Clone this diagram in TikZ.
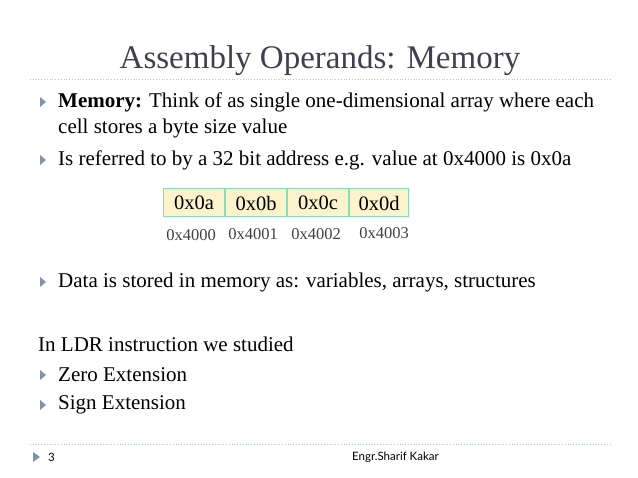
\documentclass[tikz,border=0pt]{standalone}
\usepackage{fontspec}
\setmainfont{Liberation Serif}
\newfontfamily\footfont{Lato}
\definecolor{titlec}{HTML}{3F3F4E}
\definecolor{bul}{HTML}{7F93AA}
\definecolor{cellfill}{HTML}{FCF2CC}
\definecolor{celldraw}{HTML}{86DDB8}
\definecolor{dotc}{HTML}{B5C3D3}
\begin{document}
\begin{tikzpicture}[x=1pt,y=-1pt,
  btxt/.style={anchor=west,inner sep=0pt,font=\fontsize{21}{25}\selectfont},
  cell/.style={draw=celldraw,line width=1pt,fill=cellfill,minimum width=61pt,minimum height=28pt,inner sep=0pt,font=\fontsize{20.5}{24}\selectfont,anchor=west},
  addr/.style={font=\fontsize{16.5}{19}\selectfont,text=black!75,inner sep=0pt},
  dotline/.style={dotc,dotted,line width=0.8pt}]
\useasboundingbox (0,0) rectangle (638,478);
\node[font=\fontsize{33}{38}\selectfont,text=titlec] (title) at (320,61) {Assembly Operands: Memory};
\draw[dotline] (30,79) -- (610,79);
\foreach \y/\n in {102/b1,160/b2,282/b3,375/b4,405/b5}{
  \fill[bul] (40,\y-5) -- (46,\y) -- (40,\y+5) -- cycle;}
\node[btxt] (t1) at (58,102) {\textbf{Memory:} Think of as single one-dimensional array where each};
\node[btxt] (t1b) at (58,128) {cell stores a byte size value};
\node[btxt] (t2) at (58,160) {Is referred to by a 32 bit address e.g. value at 0x4000 is 0x0a};
\node[cell] (c1) at (163,203) {0x0a};
\node[cell] (c2) at (c1.east) {0x0b};
\node[cell] (c3) at (c2.east) {0x0c};
\node[cell,minimum width=59pt] (c4) at (c3.east) {0x0d};
\node[addr] (a1) at (191,235) {0x4000};
\node[addr] (a2) at (253,234) {0x4001};
\node[addr] (a3) at (316,234) {0x4002};
\node[addr] (a4) at (384,233) {0x4003};
\node[btxt] (t3) at (58,282) {Data is stored in memory as: variables, arrays, structures};
\node[btxt] (t4) at (38,344) {In LDR instruction we studied};
\node[btxt] (t5) at (58,375) {Zero Extension};
\node[btxt] (t6) at (58,405) {Sign Extension};
\draw[dotline] (30,444) -- (610,444);
\fill[bul] (33,452) -- (40,457) -- (33,462) -- cycle;
\node[font=\footfont\fontsize{11.5}{13}\selectfont,anchor=west,inner sep=0pt] (pg) at (48,457) {3};
\node[font=\footfont\fontsize{11.5}{13}\selectfont,anchor=west,inner sep=0pt] (auth) at (352,457) {Engr.Sharif Kakar};
\end{tikzpicture}
\end{document}
